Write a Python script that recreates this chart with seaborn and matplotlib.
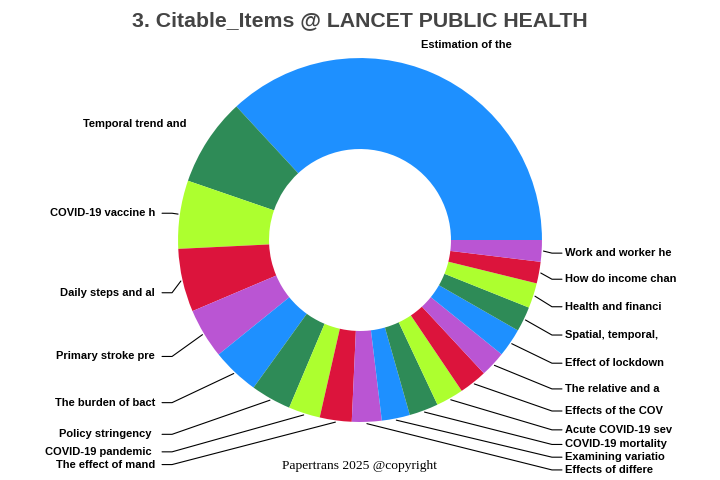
import numpy as np
import matplotlib.pyplot as plt
import seaborn as sns

# short titles (first 18 chars) and their share of citable items
titles = [
    "Estimation of the ", "Temporal trend and", "COVID-19 vaccine h",
    "Daily steps and al", "Primary stroke pre", "The burden of bact",
    "Policy stringency ", "COVID-19 pandemic ", "The effect of mand",
    "Effects of differe", "Examining variatio", "COVID-19 mortality",
    "Acute COVID-19 sev", "Effects of the COV", "The relative and a",
    "Effect of lockdown", "Spatial, temporal,", "Health and financi",
    "How do income chan", "Work and worker he",
]
citations = [132.8, 28.2, 21.8, 20.2, 16.0, 15.2, 12.9, 10.1, 10.2, 9.5,
             9.0, 9.3, 8.8, 8.9, 8.2, 9.1, 8.0, 8.0, 6.9, 6.9]
colour_names = ["dodgerblue", "seagreen", "greenyellow", "crimson", "mediumorchid"]

sns.set_theme(style="white")
plt.rcParams["font.family"] = ["Liberation Sans", "DejaVu Sans"]

palette = sns.color_palette(colour_names)
colors = [palette[i % len(palette)] for i in range(len(citations))]

fig = plt.figure(figsize=(7.2, 4.8), dpi=100)
ax = fig.add_axes([0, 0, 1, 1])
wedges, _ = ax.pie(citations, colors=colors, startangle=0, counterclock=True,
                   radius=1.0, wedgeprops=dict(width=0.5, linewidth=0))
ax.set_xlim(-1.978, 1.978)
ax.set_ylim(-1.319, 1.319)
ax.set_aspect("equal")
ax.axis("off")

total = sum(citations)
right, left = [], []
for i, w in enumerate(wedges):
    ang = np.deg2rad((w.theta1 + w.theta2) / 2)
    x, y = np.cos(ang), np.sin(ang)
    if citations[i] / total > 0.07:
        ax.text(1.48 * x, 1.17 * y, titles[i], ha="center", va="center",
                fontsize=8, fontweight="bold", color="black")
        continue
    if x > 0:
        right.append([i, x, y, 1.2 * y])
    else:
        left.append([i, x, y, 1.2 * y - 0.022])

# push labels apart so they do not overlap
for side in (right, left):
    side.sort(key=lambda r: -r[3])
    for k in range(1, len(side)):
        if side[k][3] > side[k - 1][3] - 0.07:
            side[k][3] = side[k - 1][3] - 0.07

for side, sgn in ((right, 1), (left, -1)):
    corner = 1.055 if sgn > 0 else -1.033
    for i, x, y, ly in side:
        ax.plot([1.01 * x, corner, corner + sgn * 0.055], [1.01 * y, ly, ly],
                color="black", lw=0.8)
        ax.text(sgn * 1.126, ly, titles[i], ha="left" if sgn > 0 else "right",
                va="center", fontsize=8, fontweight="bold", color="black")

fig.text(0.5, 0.958, "3. Citable_Items @ LANCET PUBLIC HEALTH", ha="center",
         va="center", fontsize=15.3, fontweight="bold", color="#444444")
fig.text(0.5, 0.029, "Papertrans 2025 @copyright", ha="center", va="center",
         fontsize=9.7, family="Liberation Serif", color="black")

fig.savefig("out.png", dpi=100)
